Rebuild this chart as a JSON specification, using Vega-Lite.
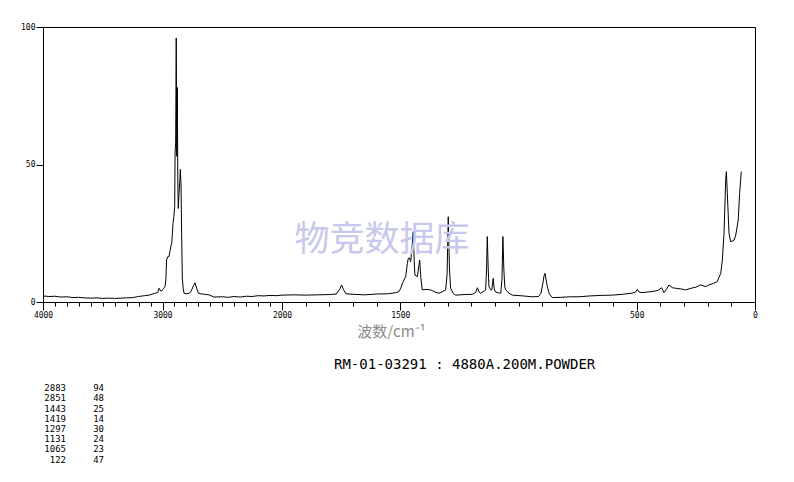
{
  "$schema": "https://vega.github.io/schema/vega-lite/v6.json",
  "background": "white",
  "padding": {"left": 20, "top": 22, "right": 0, "bottom": 0},
  "config": {
    "concat": {"spacing": 18},
    "axis": {"grid": false, "domainColor": "black", "tickColor": "black", "labelColor": "black", "labelFont": "DejaVu Sans Mono", "labelFontSize": 8, "domainWidth": 1, "tickWidth": 1}
  },
  "datasets": {
    "spectrum": [
      {"wn": 4000, "int": 2.2}, {"wn": 3950, "int": 2.0}, {"wn": 3900, "int": 2.1}, {"wn": 3850, "int": 1.8},
      {"wn": 3800, "int": 1.9}, {"wn": 3750, "int": 1.6}, {"wn": 3700, "int": 1.7}, {"wn": 3650, "int": 1.5},
      {"wn": 3600, "int": 1.4}, {"wn": 3550, "int": 1.5}, {"wn": 3500, "int": 1.3}, {"wn": 3450, "int": 1.4},
      {"wn": 3400, "int": 1.3}, {"wn": 3350, "int": 1.4}, {"wn": 3300, "int": 1.5}, {"wn": 3250, "int": 1.6},
      {"wn": 3200, "int": 2.0}, {"wn": 3150, "int": 2.3}, {"wn": 3113, "int": 2.5}, {"wn": 3060, "int": 3.2},
      {"wn": 3040, "int": 3.5}, {"wn": 3029, "int": 5.0}, {"wn": 3015, "int": 4.0}, {"wn": 3007, "int": 4.1},
      {"wn": 2990, "int": 5.0}, {"wn": 2979, "int": 5.6}, {"wn": 2972, "int": 8.0}, {"wn": 2966, "int": 15.3},
      {"wn": 2955, "int": 16.5}, {"wn": 2946, "int": 16.5}, {"wn": 2935, "int": 19.0}, {"wn": 2931, "int": 20.0},
      {"wn": 2923, "int": 21.3}, {"wn": 2917, "int": 25.0}, {"wn": 2912, "int": 28.6}, {"wn": 2905, "int": 31.0},
      {"wn": 2898, "int": 34.7}, {"wn": 2895, "int": 54.0}, {"wn": 2890, "int": 58.0}, {"wn": 2885, "int": 96.0},
      {"wn": 2881, "int": 53.0}, {"wn": 2876, "int": 78.0}, {"wn": 2872, "int": 45.0}, {"wn": 2868, "int": 34.0},
      {"wn": 2862, "int": 39.5}, {"wn": 2855, "int": 44.0}, {"wn": 2851, "int": 48.2}, {"wn": 2845, "int": 43.0},
      {"wn": 2840, "int": 25.0}, {"wn": 2834, "int": 8.6}, {"wn": 2827, "int": 5.0}, {"wn": 2820, "int": 3.2},
      {"wn": 2800, "int": 3.0}, {"wn": 2778, "int": 3.2}, {"wn": 2765, "int": 3.6}, {"wn": 2756, "int": 4.4},
      {"wn": 2740, "int": 6.0}, {"wn": 2728, "int": 7.0}, {"wn": 2714, "int": 5.0}, {"wn": 2700, "int": 3.2},
      {"wn": 2680, "int": 3.0}, {"wn": 2650, "int": 2.8}, {"wn": 2610, "int": 2.6}, {"wn": 2570, "int": 1.8},
      {"wn": 2500, "int": 1.9}, {"wn": 2450, "int": 1.7}, {"wn": 2400, "int": 2.0}, {"wn": 2350, "int": 1.8},
      {"wn": 2300, "int": 2.1}, {"wn": 2250, "int": 2.0}, {"wn": 2200, "int": 2.3}, {"wn": 2150, "int": 2.2},
      {"wn": 2100, "int": 2.4}, {"wn": 2050, "int": 2.3}, {"wn": 2000, "int": 2.5}, {"wn": 1950, "int": 2.6},
      {"wn": 1900, "int": 2.5}, {"wn": 1850, "int": 2.6}, {"wn": 1800, "int": 2.7}, {"wn": 1770, "int": 2.9},
      {"wn": 1755, "int": 4.8}, {"wn": 1748, "int": 6.2}, {"wn": 1740, "int": 4.5}, {"wn": 1730, "int": 3.0},
      {"wn": 1700, "int": 2.8}, {"wn": 1650, "int": 2.6}, {"wn": 1600, "int": 2.9}, {"wn": 1550, "int": 3.0},
      {"wn": 1520, "int": 3.4}, {"wn": 1505, "int": 3.8}, {"wn": 1498, "int": 5.0}, {"wn": 1490, "int": 7.0},
      {"wn": 1477, "int": 9.2}, {"wn": 1470, "int": 14.0}, {"wn": 1466, "int": 15.9}, {"wn": 1461, "int": 16.0},
      {"wn": 1456, "int": 14.7}, {"wn": 1450, "int": 20.0}, {"wn": 1445, "int": 25.6}, {"wn": 1441, "int": 15.0},
      {"wn": 1438, "int": 9.8}, {"wn": 1428, "int": 9.2}, {"wn": 1423, "int": 12.0}, {"wn": 1418, "int": 15.3},
      {"wn": 1413, "int": 9.0}, {"wn": 1407, "int": 4.4}, {"wn": 1390, "int": 4.6}, {"wn": 1371, "int": 4.4},
      {"wn": 1350, "int": 3.5}, {"wn": 1336, "int": 3.2}, {"wn": 1320, "int": 3.8}, {"wn": 1308, "int": 4.4},
      {"wn": 1302, "int": 10.0}, {"wn": 1297, "int": 31.0}, {"wn": 1292, "int": 12.0}, {"wn": 1287, "int": 5.0},
      {"wn": 1275, "int": 3.0}, {"wn": 1266, "int": 2.5}, {"wn": 1230, "int": 2.7}, {"wn": 1195, "int": 2.8},
      {"wn": 1180, "int": 3.6}, {"wn": 1174, "int": 5.2}, {"wn": 1166, "int": 3.5}, {"wn": 1160, "int": 3.2},
      {"wn": 1145, "int": 4.0}, {"wn": 1139, "int": 4.4}, {"wn": 1135, "int": 12.0}, {"wn": 1132, "int": 23.8},
      {"wn": 1128, "int": 12.0}, {"wn": 1125, "int": 5.6}, {"wn": 1118, "int": 4.5}, {"wn": 1113, "int": 4.4},
      {"wn": 1107, "int": 8.6}, {"wn": 1103, "int": 5.0}, {"wn": 1099, "int": 3.8}, {"wn": 1085, "int": 3.3},
      {"wn": 1075, "int": 3.2}, {"wn": 1070, "int": 8.0}, {"wn": 1066, "int": 23.8}, {"wn": 1062, "int": 12.0},
      {"wn": 1058, "int": 5.5}, {"wn": 1054, "int": 4.4}, {"wn": 1040, "int": 3.2}, {"wn": 1026, "int": 2.5},
      {"wn": 980, "int": 2.2}, {"wn": 942, "int": 1.9}, {"wn": 915, "int": 2.0}, {"wn": 905, "int": 3.2},
      {"wn": 899, "int": 5.8}, {"wn": 892, "int": 9.5}, {"wn": 888, "int": 10.4}, {"wn": 883, "int": 8.0},
      {"wn": 878, "int": 5.6}, {"wn": 870, "int": 3.0}, {"wn": 857, "int": 1.6}, {"wn": 820, "int": 1.7},
      {"wn": 780, "int": 1.9}, {"wn": 744, "int": 1.9}, {"wn": 700, "int": 2.2}, {"wn": 650, "int": 2.4},
      {"wn": 605, "int": 2.5}, {"wn": 560, "int": 2.8}, {"wn": 520, "int": 3.2}, {"wn": 505, "int": 3.6},
      {"wn": 498, "int": 4.6}, {"wn": 490, "int": 3.6}, {"wn": 478, "int": 3.4}, {"wn": 436, "int": 3.8},
      {"wn": 410, "int": 4.2}, {"wn": 395, "int": 5.2}, {"wn": 385, "int": 3.4}, {"wn": 375, "int": 4.5},
      {"wn": 364, "int": 6.2}, {"wn": 350, "int": 5.2}, {"wn": 335, "int": 5.0}, {"wn": 310, "int": 4.7},
      {"wn": 293, "int": 4.4}, {"wn": 270, "int": 5.0}, {"wn": 250, "int": 5.4}, {"wn": 230, "int": 6.2},
      {"wn": 208, "int": 5.6}, {"wn": 195, "int": 6.2}, {"wn": 175, "int": 6.8}, {"wn": 160, "int": 7.4},
      {"wn": 145, "int": 10.4}, {"wn": 138, "int": 15.3}, {"wn": 131, "int": 25.0}, {"wn": 124, "int": 44.4},
      {"wn": 121, "int": 47.4}, {"wn": 117, "int": 39.5}, {"wn": 110, "int": 25.0}, {"wn": 103, "int": 21.9},
      {"wn": 89, "int": 22.5}, {"wn": 82, "int": 24.0}, {"wn": 71, "int": 29.8}, {"wn": 65, "int": 39.5},
      {"wn": 58, "int": 47.4}
    ],
    "peaks": [
      {"wn": 2883, "int": 94}, {"wn": 2851, "int": 48}, {"wn": 1443, "int": 25}, {"wn": 1419, "int": 14},
      {"wn": 1297, "int": 30}, {"wn": 1131, "int": 24}, {"wn": 1065, "int": 23}, {"wn": 122, "int": 47}
    ]
  },
  "vconcat": [
    {
      "width": 712,
      "height": 275,
      "view": {"stroke": "black", "strokeWidth": 1},
      "layer": [
        {
          "data": {"name": "spectrum"},
          "mark": {"type": "line", "color": "black", "strokeWidth": 1, "interpolate": "linear"},
          "encoding": {
            "x": {
              "field": "wn", "type": "quantitative",
              "scale": {"domain": [0, 2000, 4000], "range": [712, 239, 0], "nice": false, "zero": false},
              "axis": {"orient": "bottom", "values": [4000, 3000, 2000, 1500, 500, 0], "format": "d", "tickSize": 8, "labelPadding": 1, "labelFlush": false, "labelOverlap": false,
                       "title": "波数/cm⁻¹", "titleFont": "Noto Sans CJK SC", "titleFontSize": 15, "titleFontWeight": "normal", "titleColor": "#8a8a8a", "titlePadding": 5, "titleX": 348}
            },
            "y": {
              "field": "int", "type": "quantitative",
              "scale": {"domain": [0, 100], "nice": false},
              "axis": {"values": [0, 50, 100], "tickSize": 7, "labelPadding": 1, "title": null}
            }
          }
        },
        {
          "data": {"name": "spectrum"},
          "mark": {"type": "line", "opacity": 0},
          "encoding": {
            "x": {
              "field": "wn", "type": "quantitative",
              "axis": {"orient": "bottom", "values": [0,100,200,300,400,500,600,700,800,900,1000,1100,1200,1300,1400,1500,1600,1700,1800,1900,2000,2100,2200,2300,2400,2500,2600,2700,2800,2900,3000,3100,3200,3300,3400,3500,3600,3700,3800,3900,4000],
                       "tickSize": 4, "labels": false, "domain": false, "title": null}
            },
            "y": {"field": "int", "type": "quantitative"}
          }
        },
        {
          "data": {"values": [{"label": "物竞数据库"}]},
          "mark": {"type": "text", "font": "Noto Sans CJK SC", "fontSize": 35, "color": "#c8c8ec", "align": "center", "baseline": "middle"},
          "encoding": {
            "text": {"field": "label"},
            "x": {"datum": 1577, "type": "quantitative", "axis": null},
            "y": {"datum": 22.5, "type": "quantitative"}
          }
        }
      ],
      "resolve": {"axis": {"x": "independent"}}
    },
    {
      "width": 84,
      "height": {"step": 10.2},
      "view": {"stroke": null},
      "data": {"name": "peaks"},
      "title": {"text": "RM-01-03291 : 4880A.200M.POWDER", "anchor": "start", "frame": "group", "dx": 291, "offset": 11, "font": "DejaVu Sans Mono", "fontSize": 14, "fontWeight": "normal", "color": "black"},
      "transform": [{"fold": ["wn", "int"], "as": ["key", "value"]}],
      "mark": {"type": "text", "align": "right", "baseline": "middle", "font": "DejaVu Sans Mono", "fontSize": 9, "color": "black"},
      "encoding": {
        "x": {"field": "key", "type": "nominal", "sort": ["wn", "int"], "scale": {"type": "point", "padding": 0.605}, "axis": null},
        "y": {"field": "wn", "type": "ordinal", "sort": "descending", "axis": null},
        "text": {"field": "value", "type": "quantitative", "format": "d"}
      }
    }
  ]
}
